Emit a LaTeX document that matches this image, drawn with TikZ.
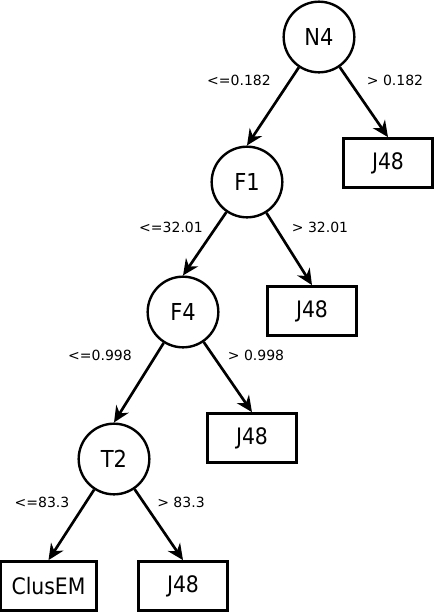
\documentclass[tikz,border=0pt]{standalone}
\usepackage{fontspec}
\setmainfont{DejaVu Sans Condensed}
\newfontfamily\condfont{DejaVu Sans}
\usetikzlibrary{arrows.meta}
\begin{document}
\begin{tikzpicture}[x=0.75pt, y=-0.75pt,
      >={Stealth[length=12pt,width=11pt]},
      test/.style={draw, circle, line width=1.8pt, minimum size=53pt, inner sep=0pt, font=\fontsize{17.5}{17.5}\selectfont},
      leaf/.style={draw, rectangle, line width=1.8pt, minimum width=67pt, minimum height=37pt, inner sep=0pt, font=\fontsize{17}{17}\selectfont},
      cond/.style={font=\condfont\fontsize{10.5}{10.5}\selectfont},
      edge/.style={->, line width=2pt}]

    \useasboundingbox (0,0) rectangle (435,612);

    \node[test] (n4) at (319,37)  {N4};
    \node[leaf] (j1) at (388,163) {J48};
    \node[test] (f1) at (247,182) {F1};
    \node[leaf] (j2) at (312,311) {J48};
    \node[test] (f4) at (183,312) {F4};
    \node[leaf] (j3) at (252,438) {J48};
    \node[test] (t2) at (114,459) {T2};
    \node[leaf, minimum width=72pt] (ce) at (48.5,586) {ClusEM};
    \node[leaf] (j4) at (183,586) {J48};

    \draw[edge] (n4) -- (f1.north);
    \draw[edge] (n4) -- (j1.north);
    \draw[edge] (f1) -- (f4.north);
    \draw[edge] (f1) -- (j2.north);
    \draw[edge] (f4) -- (t2.north);
    \draw[edge] (f4) -- (j3.north);
    \draw[edge] (t2) -- (ce.north);
    \draw[edge] (t2) -- (j4.north);

    \node[cond] (c1) at (239,80)  {<=0.182};
    \node[cond] (c2) at (395,80)  {> 0.182};
    \node[cond] (c3) at (171,227) {<=32.01};
    \node[cond] (c4) at (320,227) {> 32.01};
    \node[cond] (c5) at (100,355) {<=0.998};
    \node[cond] (c6) at (256,355) {> 0.998};
    \node[cond] (c7) at (42,502)  {<=83.3};
    \node[cond] (c8) at (181,502) {> 83.3};
  \end{tikzpicture}
\end{document}
